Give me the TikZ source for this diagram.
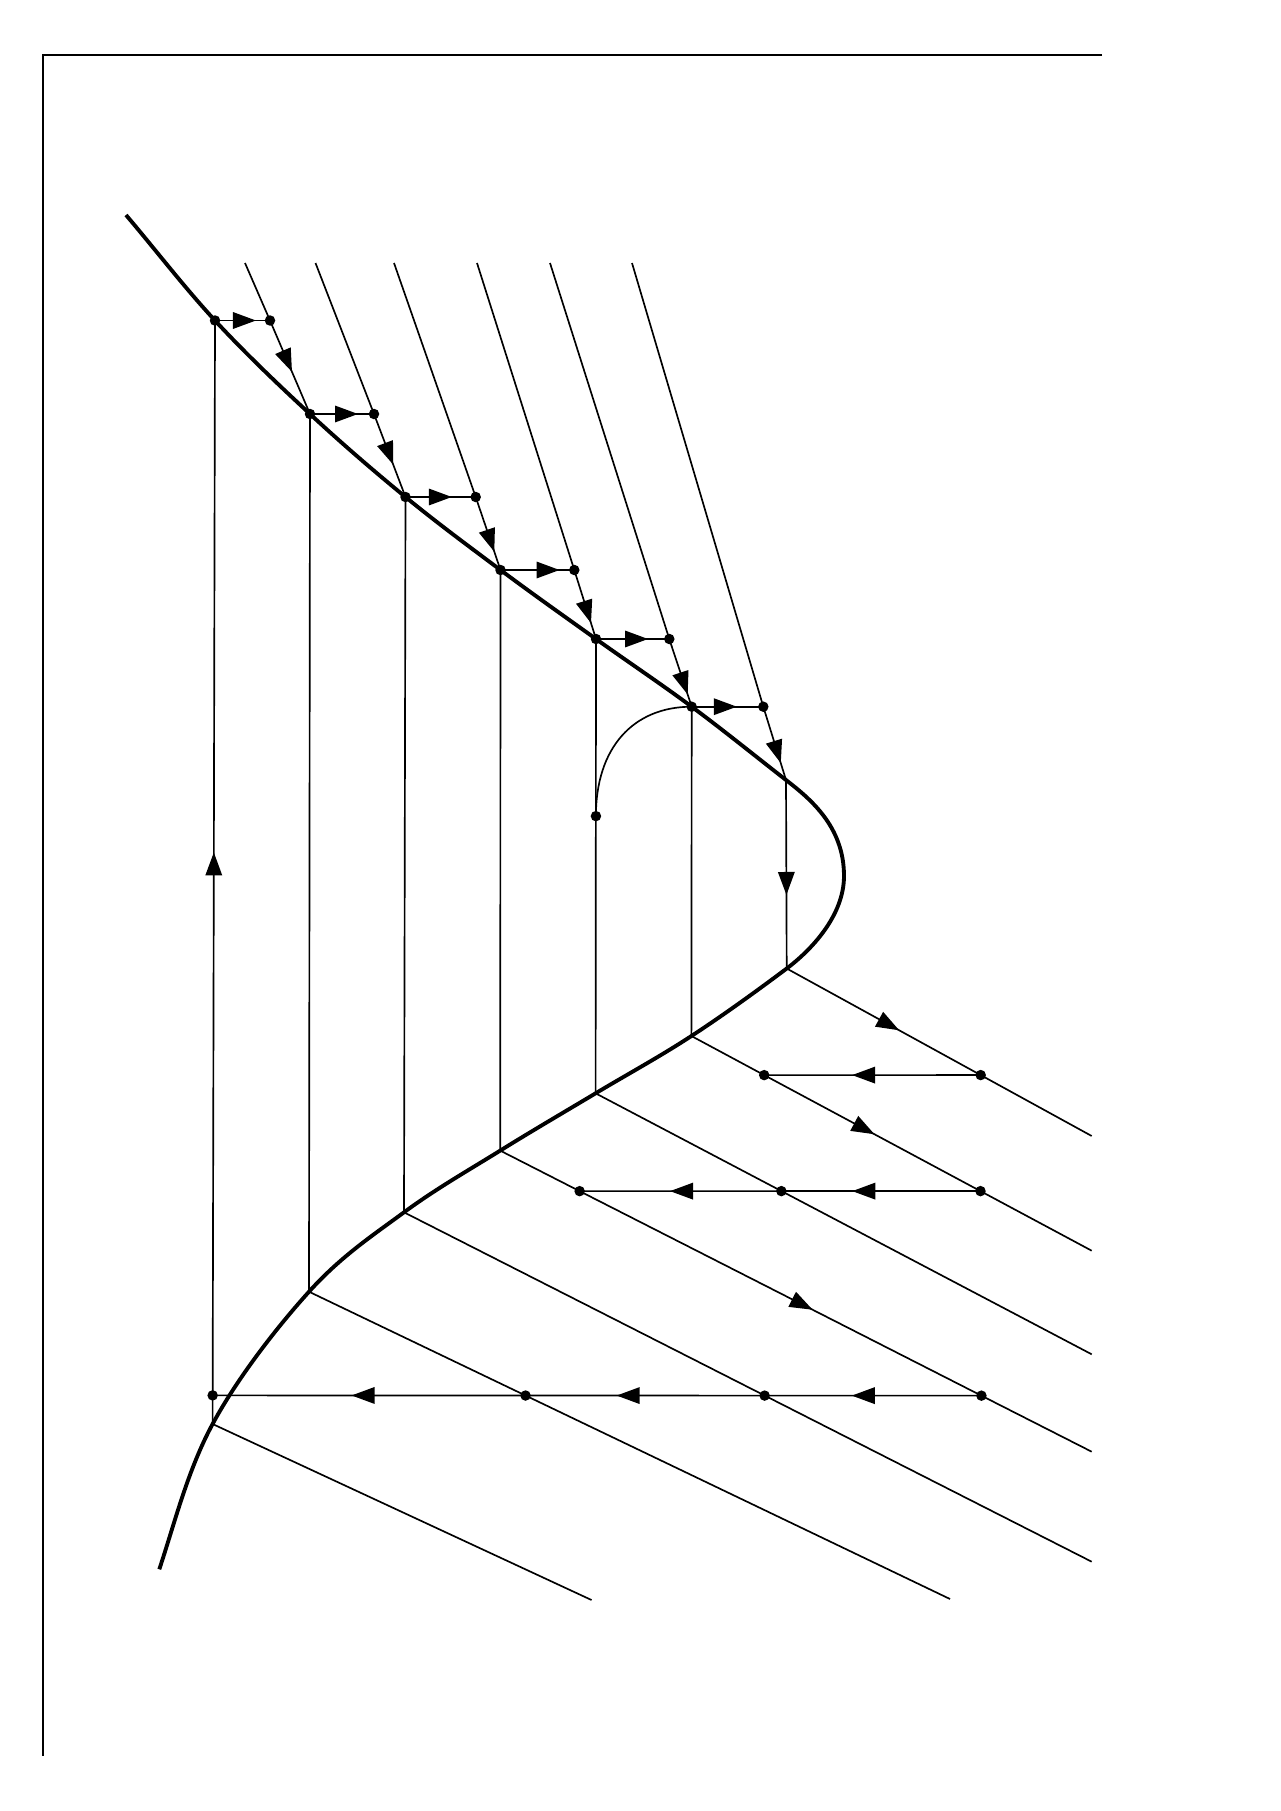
\documentclass[tikz,border=0pt]{standalone}
\usetikzlibrary{arrows.meta,decorations.markings}
\begin{document}
\begin{tikzpicture}[x=0.2mm,y=-0.2mm,
  ln/.style={line width=0.95pt},
  fold/.style={line width=2.2pt},
  frame/.style={line width=1pt},
  dot/.style={circle, fill=black, inner sep=0pt, minimum size=2.1mm},
  arrowat/.style={postaction={decorate}, decoration={markings, mark=at position #1 with {\arrow{Triangle[length=4.6mm,width=3.3mm]}}}}]
\useasboundingbox (0,0) rectangle (1280,1811);
% frame
\coordinate (f0) at (43,55);
\coordinate (f1) at (1102,55);
\coordinate (f2) at (43,1756);
\draw[frame] (f1) -- (f0) -- (f2);
% upper fold points and their shifted partners
\node[dot] (u1) at (215,320.5) {};
\node[dot] (u2) at (310,414) {};
\node[dot] (u3) at (405.5,497) {};
\node[dot] (u4) at (500.5,570) {};
\node[dot] (u5) at (596,639) {};
\node[dot] (u6) at (691.7,706.7) {};
\coordinate (u7) at (786,780);
\node[dot] (r1) at (270,320.5) {};
\node[dot] (r2) at (374,414) {};
\node[dot] (r3) at (475.7,497) {};
\node[dot] (r4) at (574.3,570) {};
\node[dot] (r5) at (669.3,639) {};
\node[dot] (r6) at (763.3,706.7) {};
\coordinate (t1) at (245,263);
\coordinate (t2) at (315.5,263);
\coordinate (t3) at (394,263);
\coordinate (t4) at (477,263);
\coordinate (t5) at (550,263);
\coordinate (t6) at (632,263);
% fold ends and tip
\coordinate (s0) at (126,215);
\coordinate (tip) at (844,876);
\coordinate (s1) at (159.3,1569.3);
% lower fold points and line ends
\coordinate (c0) at (212.6,1424);
\coordinate (c1) at (309,1291.7);
\coordinate (c2) at (404,1212.3);
\coordinate (c3) at (500.2,1150.6);
\coordinate (c4) at (595.6,1093.3);
\coordinate (c5) at (691.4,1036);
\coordinate (c6) at (786.7,968.5);
\coordinate (e0) at (591.5,1600);
\coordinate (e1) at (950,1599);
\coordinate (e2) at (1091.7,1561.7);
\coordinate (e3) at (1091.7,1451.7);
\coordinate (e4) at (1091.7,1354.3);
\coordinate (e5) at (1091.7,1250.7);
\coordinate (e6) at (1091.7,1136);
% helper rows
\coordinate (hA0) at (0,1075);   \coordinate (hA1) at (1280,1075);
\coordinate (hB0) at (0,1191);   \coordinate (hB1) at (1280,1191);
\coordinate (hC0) at (0,1395.5); \coordinate (hC1) at (1280,1395.5);
\coordinate (hD0) at (0,816);    \coordinate (hD1) at (1280,816);
\node[dot] (dA1) at (intersection of c5--e5 and hA0--hA1) {};
\node[dot] (dA2) at (intersection of c6--e6 and hA0--hA1) {};
\node[dot] (dB1) at (intersection of c3--e3 and hB0--hB1) {};
\node[dot] (dB2) at (intersection of c4--e4 and hB0--hB1) {};
\node[dot] (dB3) at (intersection of c5--e5 and hB0--hB1) {};
\node[dot] (dC0) at (intersection of u1--c0 and hC0--hC1) {};
\node[dot] (dC1) at (intersection of c1--e1 and hC0--hC1) {};
\node[dot] (dC2) at (intersection of c2--e2 and hC0--hC1) {};
\node[dot] (dC3) at (intersection of c3--e3 and hC0--hC1) {};
\node[dot] (a) at (intersection of u5--c4 and hD0--hD1) {};
% fold curve
\draw[fold] (s0)
  .. controls (155.7,250) and (184.3,287.3) .. (u1.center)
  .. controls (245.7,353.7) and (278.25,384.6) .. (u2.center)
  .. controls (341.75,443.4) and (373.75,471) .. (u3.center)
  .. controls (437.25,523) and (468.75,546.3) .. (u4.center)
  .. controls (532.25,593.7) and (564.1,616.2) .. (u5.center)
  .. controls (627.9,661.8) and (660,683.2) .. (u6.center)
  .. controls (723.4,730.2) and (754.3,755.3) .. (u7)
  .. controls (809.7,798.5) and (844,826) .. (tip)
  .. controls (844,916) and (810.7,950.5) .. (c6)
  .. controls (756,991.5) and (723.25,1015.2) .. (c5)
  .. controls (659.55,1056.8) and (627.5,1074.2) .. (c4)
  .. controls (563.7,1112.4) and (532.1,1130.8) .. (c3)
  .. controls (468.3,1170.4) and (435.9,1188.8) .. (c2)
  .. controls (372.1,1235.8) and (340.9,1256.4) .. (c1)
  .. controls (277.1,1327) and (237.55,1377.7) .. (c0)
  .. controls (187.65,1470.3) and (175,1522) .. (s1);
% upper slanted lines
\draw[ln] (t1) -- (r1.center);
\draw[ln] (t2) -- (r2.center);
\draw[ln] (t3) -- (r3.center);
\draw[ln] (t4) -- (r4.center);
\draw[ln] (t5) -- (r5.center);
\draw[ln] (t6) -- (r6.center);
\draw[ln, arrowat=0.55] (r1.center) -- (u2.center);
\draw[ln, arrowat=0.61] (r2.center) -- (u3.center);
\draw[ln, arrowat=0.75] (r3.center) -- (u4.center);
\draw[ln, arrowat=0.77] (r4.center) -- (u5.center);
\draw[ln, arrowat=0.82] (r5.center) -- (u6.center);
\draw[ln, arrowat=0.77] (r6.center) -- (u7);
% upper horizontal steps
\draw[ln, arrowat=0.745] (u1.center) -- (r1.center);
\draw[ln, arrowat=0.75] (u2.center) -- (r2.center);
\draw[ln, arrowat=0.66] (u3.center) -- (r3.center);
\draw[ln, arrowat=0.8] (u4.center) -- (r4.center);
\draw[ln, arrowat=0.71] (u5.center) -- (r5.center);
\draw[ln, arrowat=0.63] (u6.center) -- (r6.center);
% vertical lines
\draw[ln, arrowat=0.518] (c0) -- (u1.center);
\draw[ln] (u2.center) -- (c1);
\draw[ln] (u3.center) -- (c2);
\draw[ln] (u4.center) -- (c3);
\draw[ln] (u5.center) -- (c4);
\draw[ln] (u6.center) -- (c5);
\draw[ln, arrowat=0.61] (u7) -- (c6);
% arc
\draw[ln] (a.center) .. controls (595.8,748) and (633,706.7) .. (u6.center);
% lower slanted lines
\draw[ln, arrowat=0.58] (c6) -- (dA2.center);
\draw[ln] (dA2.center) -- (e6);
\draw[ln] (c5) -- (dA1.center);
\draw[ln, arrowat=0.51] (dA1.center) -- (dB3.center);
\draw[ln] (dB3.center) -- (e5);
\draw[ln] (c4) -- (e4);
\draw[ln] (c3) -- (dB1.center);
\draw[ln, arrowat=0.58] (dB1.center) -- (dC3.center);
\draw[ln] (dC3.center) -- (e3);
\draw[ln] (c2) -- (e2);
\draw[ln] (c1) -- (e1);
\draw[ln] (c0) -- (e0);
% lower horizontal steps
\draw[ln, arrowat=0.594] (dA2.center) -- (dA1.center);
\draw[ln, arrowat=0.644] (dB3.center) -- (dB2.center);
\draw[ln, arrowat=0.552] (dB2.center) -- (dB1.center);
\draw[ln, arrowat=0.598] (dC3.center) -- (dC2.center);
\draw[ln, arrowat=0.619] (dC2.center) -- (dC1.center);
\draw[ln, arrowat=0.556] (dC1.center) -- (dC0.center);
\end{tikzpicture}
\end{document}
